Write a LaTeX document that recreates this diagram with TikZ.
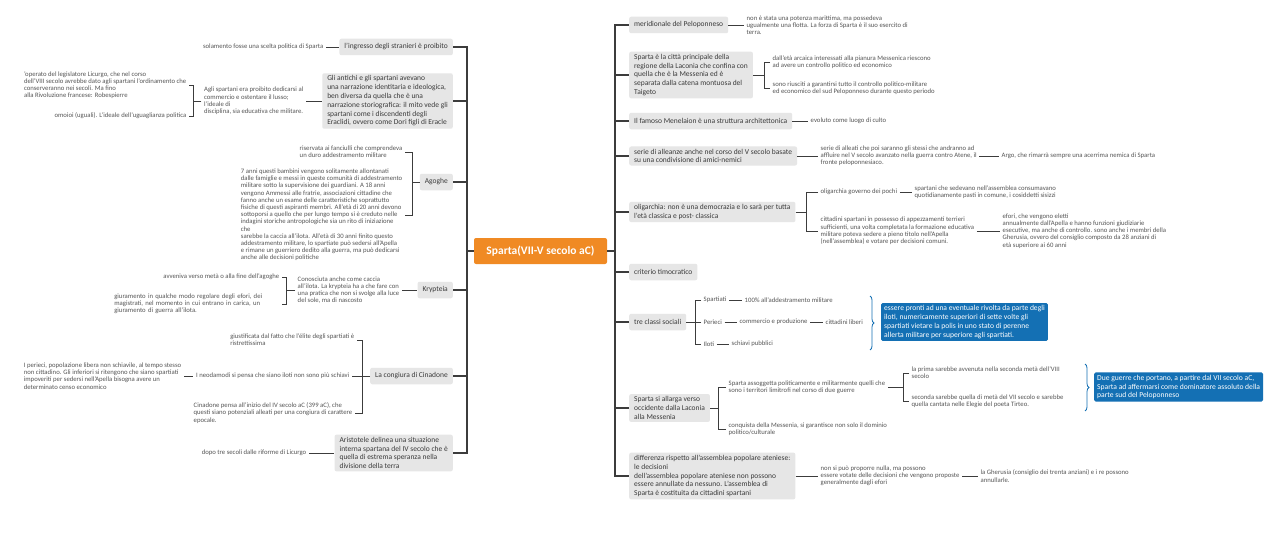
\documentclass[tikz,border=0pt]{standalone}
\usepackage{fontspec}
\setmainfont{Carlito}
\usetikzlibrary{decorations.pathreplacing}
\definecolor{boxgray}{HTML}{E6E6E6}
\definecolor{boxtext}{HTML}{3A3A3A}
\definecolor{leaftext}{HTML}{555555}
\definecolor{linecol}{HTML}{3C3C3C}
\definecolor{spblue}{HTML}{1470B4}
\definecolor{sporange}{HTML}{F08A24}
\newcommand\bfnt{\fontsize{7.5}{8.8}\selectfont}
\newcommand\blfnt{\fontsize{7.6}{8.8}\selectfont}
\newcommand\sfnt{\fontsize{6.7}{7.2}\selectfont}
\tikzset{
  box/.style={fill=boxgray, rounded corners=2pt, inner xsep=5pt, inner ysep=2.5pt, minimum height=16.5pt, font=\bfnt, text=boxtext, align=left},
  leaf/.style={font=\sfnt, text=leaftext, align=left, inner ysep=1pt, inner xsep=2.5pt},
  bluebox/.style={fill=spblue, rounded corners=1.5pt, inner xsep=3pt, inner ysep=2.5pt, font=\blfnt, text=white, align=left},
  conn/.style={draw=linecol, line width=0.8pt},
  trunk/.style={draw=linecol, line width=1.6pt},
  bluebrace/.style={draw=spblue, line width=0.8pt, decorate, decoration={brace, amplitude=4pt}},
}
\begin{document}
\begin{tikzpicture}[x=1pt,y=-1pt]
\useasboundingbox (0,0) rectangle (1280,535);
\fill[white] (0,0) rectangle (1280,535);

% central
\node[fill=sporange, rounded corners=2pt, text=white, font=\fontsize{11.5}{13}\selectfont\bfseries, minimum width=133pt, minimum height=26pt, inner sep=2pt] (C) at (540.5,251) {Sparta(VII-V secolo aC)};
\coordinate (tL) at (467,251);
\coordinate (tR) at (615,251);

% ---------------- LEFT ----------------
\node[box, anchor=east] (L1) at (453,47) {l'ingresso degli stranieri è proibito};
\node[leaf, anchor=east] (L1a) at (326,47) {solamento fosse una scelta politica di Sparta};

\node[box, anchor=east] (L2) at (453,101) {Gli antichi e gli spartani avevano\\una narrazione identitaria e ideologica,\\ben diversa da quella che è una\\narrazione storiografica: il mito vede gli\\spartani come i discendenti degli\\Eraclidi, ovvero come Dori figli di Eracle};
\node[leaf, anchor=east] (L2a) at (306,101) {Agli spartani era proibito dedicarsi al\\commercio e ostentare il lusso;\\l'ideale di\\disciplina, sia educativa che militare.};
\coordinate (bL2) at (193,101);
\node[leaf, anchor=east] (L2a1) at (189,85) {'operato del legislatore Licurgo, che nel corso\\dell'VIII secolo avrebbe dato agli spartani l'ordinamento che\\conserveranno nei secoli. Ma fino\\alla Rivoluzione francese: Robespierre};
\node[leaf, anchor=east] (L2a2) at (189,116) {omoioi (uguali). L'ideale dell'uguaglianza politica};

\node[box, anchor=east] (L3) at (453,182) {Agoghe};
\coordinate (bL3) at (412,182);
\node[leaf, anchor=east] (L3a) at (405,152) {riservata ai fanciulli che comprendeva\\un duro addestramento militare};
\node[leaf, anchor=east] (L3b) at (405,215) {7  anni questi bambini vengono solitamente allontanati\\dalle famiglie e messi in queste  comunità di addestramento\\militare sotto la supervisione dei guardiani. A 18 anni\\vengono  Ammessi alle fratrie, associazioni cittadine che\\fanno anche un esame delle caratteristiche  soprattutto\\fisiche di questi aspiranti membri. All'età di 20 anni devono\\sottoporsi a quello che  per lungo tempo si è creduto nelle\\indagini storiche antropologiche sia un rito di iniziazione\\che\\sarebbe la caccia all'ilota. All'età di 30 anni finito questo\\addestramento militare, lo spartiate  può sedersi all'Apella\\e rimane un guerriero dedito alla guerra, ma può dedicarsi\\anche alle  decisioni politiche};

\node[box, anchor=east] (L4) at (453,290) {Krypteia};
\node[leaf, anchor=east] (L4a) at (402,290) {Conosciuta anche come caccia\\all'ilota. La krypteia ha a che fare con\\una pratica che non si svolge alla luce\\del sole, ma di nascosto};
\coordinate (bL4) at (286,290);
\node[leaf, anchor=east] (L4a1) at (282,277) {avveniva verso metà o alla fine dell'agoghe};
\node[leaf, anchor=east, text width=165pt] (L4a2) at (282,304) {giuramento in qualche modo regolare degli efori, dei\\magistrati, nel momento in cui entrano in carica, un\\giuramento di guerra all'ilota.};

\node[box, anchor=east] (L5) at (453,376) {La congiura di Cinadone};
\coordinate (bL5) at (362,376);
\node[leaf, anchor=east] (L5a) at (357,340) {giustificata dal fatto che l'élite degli spartiati è\\ristrettissima};
\node[leaf, anchor=east] (L5b) at (352,376) {I neodamodi si pensa che siano iloti  non sono più schiavi};
\node[leaf, anchor=east] (L5b1) at (184,376) {I perieci, popolazione libera non schiavile, al tempo stesso\\non cittadino. Gli inferiori si ritengono che siano spartiati\\impoveriti per sedersi nell'Apella bisogna avere un\\determinato censo economico};
\node[leaf, anchor=east] (L5c) at (355,413) {Cinadone pensa all'inizio del IV secolo aC (399 aC), che\\questi siano potenziali alleati per una congiura di carattere\\epocale.};

\node[box, anchor=east] (L6) at (453,453) {Aristotele delinea una situazione\\interna spartana del IV secolo che è\\quella di estrema speranza nella\\divisione della terra};
\node[leaf, anchor=east] (L6a) at (309,453) {dopo tre secoli dalle riforme di Licurgo};

% left connectors
\draw[trunk] (C.west) -- (tL);
\draw[trunk] (L1.east) -- (L1.east -| tL) -- (L6.east -| tL) -- (L6.east);
\foreach \n in {L2,L3,L4,L5} {\draw[trunk] (\n.east) -- (\n.east -| tL);}
\draw[conn] (L1a.east) -- (L1.west);
\draw[conn] (L2a.east) -- (L2.west);
\draw[conn] (L2a.west) -- (bL2);
\draw[conn] (L2a1.east) -- (L2a1.east -| bL2) -- (L2a2.east -| bL2) -- (L2a2.east);
\draw[conn] (L3.west) -- (bL3);
\draw[conn] (L3a.east) -- (L3a.east -| bL3) -- (L3b.east -| bL3) -- (L3b.east);
\draw[conn] (L4a.east) -- (L4.west);
\draw[conn] (L4a.west) -- (bL4);
\draw[conn] (L4a1.east) -- (L4a1.east -| bL4) -- (L4a2.east -| bL4) -- (L4a2.east);
\draw[conn] (L5.west) -- (bL5);
\draw[conn] (L5a.east) -- (L5a.east -| bL5) -- (L5c.east -| bL5) -- (L5c.east);
\draw[conn] (L5b.east) -- (bL5);
\draw[conn] (L5b1.east) -- (L5b.west);
\draw[conn] (L6a.east) -- (L6.west);

% ---------------- RIGHT ----------------
\node[box, anchor=west] (R1) at (629,25) {meridionale del Peloponneso};
\node[leaf, anchor=west] (R1a) at (744,25) {non è stata una potenza marittima, ma possedeva\\ugualmente una flotta. La forza di Sparta è il suo esercito di\\terra.};

\node[box, anchor=west] (R2) at (629,75) {Sparta è la città principale della\\regione della Laconia che confina con\\quella che è la Messenia ed è\\separata dalla catena montuosa del\\Taigeto};
\coordinate (bR2) at (764,75);
\node[leaf, anchor=west] (R2a) at (770,62) {dall'età arcaica interessati alla pianura Messenica riescono\\ad avere un controllo politico ed economico};
\node[leaf, anchor=west] (R2b) at (770,88) {sono riusciti a garantirsi tutto il controllo politico-militare\\ed economico del sud Peloponneso durante questo periodo};

\node[box, anchor=west] (R3) at (629,121) {Il famoso Menelaion è una struttura architettonica};
\node[leaf, anchor=west] (R3a) at (808,121) {evoluto come luogo di culto};

\node[box, anchor=west] (R4) at (629,156) {serie di alleanze anche nel corso del V secolo basate\\su una condivisione di amici-nemici};
\node[leaf, anchor=west] (R4a) at (818,156) {serie di alleati che poi saranno gli stessi che andranno ad\\affluire nel V secolo avanzato  nella guerra contro Atene, il\\fronte peloponnesiaco.};
\node[leaf, anchor=west] (R4b) at (999,156) {Argo, che rimarrà sempre una acerrima nemica di Sparta};

\node[box, anchor=west] (R5) at (629,212) {oligarchia: non è una democrazia e lo sarà per tutta\\l'età classica e post- classica};
\coordinate (bR5) at (806,212);
\node[leaf, anchor=west] (R5a) at (818,192) {oligarchia governo dei pochi};
\node[leaf, anchor=west] (R5a1) at (912,192) {spartani che sedevano nell'assemblea consumavano\\quotidianamente pasti in comune, i cosiddetti sisizzi};
\node[leaf, anchor=west] (R5b) at (818,231) {cittadini spartani in possesso di appezzamenti terrieri\\sufficienti, una volta completata la formazione educativa\\militare  poteva sedere a pieno titolo nell'Apella\\(nell'assemblea) e votare per  decisioni comuni.};
\node[leaf, anchor=west] (R5b1) at (1000,231) {efori, che vengono eletti\\annualmente dall'Apella e hanno funzioni giudiziarie\\esecutive, ma anche di controllo. sono anche i membri della\\Gherusia, ovvero del consiglio composto da 28 anziani di\\età superiore ai 60 anni};

\node[box, anchor=west] (R6) at (629,272) {criterio timocratico};

\node[box, anchor=west] (R7) at (629,322) {tre classi sociali};
\coordinate (bR7) at (695,322);
\node[leaf, anchor=west] (R7a) at (701,300) {Spartiati};
\node[leaf, anchor=west] (R7a1) at (742,300) {100\% all'addestramento militare};
\node[leaf, anchor=west] (R7b) at (701,322) {Perieci};
\node[leaf, anchor=west] (R7b1) at (737,322) {commercio e produzione};
\node[leaf, anchor=west] (R7b2) at (823,322) {cittadini liberi};
\node[leaf, anchor=west] (R7c) at (701,344) {Iloti};
\node[leaf, anchor=west] (R7c1) at (729,344) {schiavi pubblici};
\coordinate (br1t) at (870,296);
\coordinate (br1b) at (870,350);
\node[bluebox, anchor=west] (B1) at (881,322) {essere pronti ad una eventuale rivolta da parte degli\\iloti, numericamente superiori di sette volte gli\\spartiati vietare la polis in uno stato di perenne\\allerta militare per superiore agli spartiati.};

\node[box, anchor=west] (R8) at (629,408) {Sparta si allarga verso\\occidente dalla Laconia\\alla Messenia};
\coordinate (bR8) at (718,408);
\node[leaf, anchor=west] (R8a) at (726,387) {Sparta assoggetta politicamente e militarmente quelli che\\sono i territori limitrofi nel corso di due guerre};
\coordinate (bR8a) at (903,387);
\node[leaf, anchor=west] (R8a1) at (909,373) {la prima sarebbe avvenuta nella seconda metà dell'VIII\\secolo};
\node[leaf, anchor=west] (R8a2) at (909,401) {seconda sarebbe quella di metà del VII secolo e sarebbe\\quella cantata nelle Elegie del poeta Tirteo.};
\coordinate (br2t) at (1085,364);
\coordinate (br2b) at (1085,411);
\node[bluebox, anchor=west] (B2) at (1094,387) {Due guerre che portano, a partire dal VII secolo aC,\\Sparta ad affermarsi come dominatore assoluto della\\parte sud del Peloponneso};
\node[leaf, anchor=west] (R8b) at (726,429) {conquista della Messenia, si garantisce non solo il dominio\\politico/culturale};

\node[box, anchor=west] (R9) at (629,476) {differenza rispetto all'assemblea popolare ateniese:\\le decisioni\\dell'assemblea popolare ateniese non possono\\essere annullate da nessuno. L'assemblea di\\Sparta è costituita da cittadini spartani};
\node[leaf, anchor=west] (R9a) at (818,476) {non si può proporre nulla, ma possono\\essere votate delle decisioni che vengono proposte\\generalmente dagli efori};
\node[leaf, anchor=west] (R9b) at (978,476) {la Gherusia (consiglio dei trenta anziani) e i re possono\\annullarle.};

% right connectors
\draw[trunk] (C.east) -- (tR);
\draw[trunk] (R1.west) -- (R1.west -| tR) -- (R9.west -| tR) -- (R9.west);
\foreach \n in {R2,R3,R4,R5,R6,R7,R8} {\draw[trunk] (\n.west) -- (\n.west -| tR);}
\draw[conn] (R1.east) -- (R1a.west);
\draw[conn] (R2.east) -- (bR2);
\draw[conn] (R2a.west) -- (R2a.west -| bR2) -- (R2b.west -| bR2) -- (R2b.west);
\draw[conn] (R3.east) -- (R3a.west);
\draw[conn] (R4.east) -- (R4a.west);
\draw[conn] (R4a.east) -- (R4b.west);
\draw[conn] (R5.east) -- (bR5);
\draw[conn] (R5a.west) -- (R5a.west -| bR5) -- (R5b.west -| bR5) -- (R5b.west);
\draw[conn] (R5a.east) -- (R5a1.west);
\draw[conn] (R5b.east) -- (R5b1.west);
\draw[conn] (R7.east) -- (bR7);
\draw[conn] (R7a.west) -- (R7a.west -| bR7) -- (R7c.west -| bR7) -- (R7c.west);
\draw[conn] (R7b.west) -- (bR7);
\draw[conn] (R7a.east) -- (R7a1.west);
\draw[conn] (R7b.east) -- (R7b1.west);
\draw[conn] (R7b1.east) -- (R7b2.west);
\draw[conn] (R7c.east) -- (R7c1.west);
\draw[bluebrace] (br1t) -- (br1b);
\draw[conn] (R8.east) -- (bR8);
\draw[conn] (R8a.west) -- (R8a.west -| bR8) -- (R8b.west -| bR8) -- (R8b.west);
\draw[conn] (R8a.east) -- (bR8a);
\draw[conn] (R8a1.west) -- (R8a1.west -| bR8a) -- (R8a2.west -| bR8a) -- (R8a2.west);
\draw[bluebrace] (br2t) -- (br2b);
\draw[conn] (R9.east) -- (R9a.west);
\draw[conn] (R9a.east) -- (R9b.west);
\end{tikzpicture}
\end{document}
